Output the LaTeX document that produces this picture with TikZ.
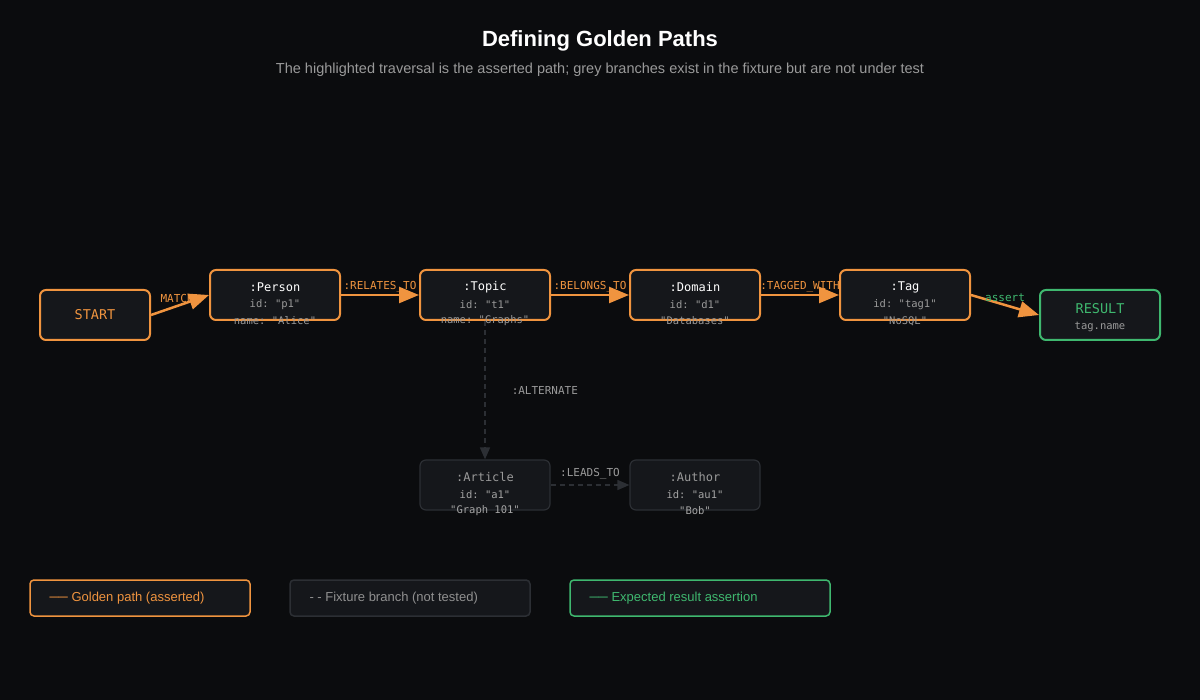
\documentclass[tikz,border=0pt]{standalone}
\usepackage{fontspec}
\setmainfont{Liberation Sans}
\setmonofont{DejaVu Sans Mono}
\usetikzlibrary{arrows.meta,positioning}
\definecolor{bgc}{HTML}{0B0C0E}
\definecolor{boxc}{HTML}{15171B}
\definecolor{gold}{HTML}{F0943F}
\definecolor{okc}{HTML}{3FB86F}
\definecolor{dimc}{HTML}{2C2F34}
\definecolor{greyt}{HTML}{9A9A9A}
\tikzset{
  box/.style={draw=gold,line width=2pt,fill=boxc,rounded corners=6pt,minimum width=130pt,minimum height=50pt},
  dimbox/.style={box,draw=dimc,line width=1.2pt},
  okbox/.style={box,draw=okc,minimum width=120pt},
  ttl/.style={font=\ttfamily\fontsize{12}{14}\selectfont,text=white},
  sub/.style={font=\ttfamily\fontsize{10.5}{12}\selectfont,text=greyt},
  gold path/.style={draw=gold,line width=2.5pt,-{Triangle[length=20pt,width=16pt]}},
  dim path/.style={draw=dimc,line width=1.5pt,dash pattern=on 5pt off 4pt,-{Triangle[length=12pt,width=10pt]}},
  elab/.style={font=\ttfamily\fontsize{11}{12}\selectfont,text=gold,inner sep=2pt},
  legend/.style={rounded corners=4pt,line width=1.5pt,fill=boxc,minimum height=36pt,font=\fontsize{13}{15}\selectfont}
}
\begin{document}
\begin{tikzpicture}[x=1pt,y=-1pt]
  \fill[bgc] (0,0) rectangle (1200,700);
  \node[font=\bfseries\fontsize{22}{26}\selectfont,text=white] (title) at (600,41) {Defining Golden Paths};
  \node[font=\fontsize{14.5}{17}\selectfont,text=greyt] (subtitle) at (600,70) {The highlighted traversal is the asserted path; grey branches exist in the fixture but are not under test};
  % golden path
  \node[box,minimum width=110pt] (start) at (95,315) {};
  \node[font=\ttfamily\fontsize{13.5}{15}\selectfont,text=gold] at (start) {START};
  \node[box] (person) at (275,295) {};
  \node[box] (topic) at (485,295) {};
  \node[box] (domain) at (695,295) {};
  \node[box] (tag) at (905,295) {};
  \node[okbox] (result) at (1100,315) {};
  \node[font=\ttfamily\fontsize{13.5}{15}\selectfont,text=okc] at (1100,309) {RESULT};
  \node[sub] at (1100,327) {tag.name};
  % fixture branch
  \node[dimbox] (article) at (485,485) {};
  \node[dimbox] (author) at (695,485) {};
  % node texts
  \foreach \n/\a/\b/\c in {person/:Person/id: "p1"/name: "Alice",
                           topic/:Topic/id: "t1"/name: "Graphs",
                           domain/:Domain/id: "d1"/"Databases",
                           tag/:Tag/id: "tag1"/"NoSQL"}{
    \node[ttl] at ([yshift=8pt]\n.center) {\a};
    \node[sub] at ([yshift=-10pt]\n.center) {\b};
    \node[sub] at ([yshift=-26pt]\n.center) {\c};
  }
  \foreach \n/\a/\b/\c in {article/:Article/id: "a1"/"Graph 101",
                           author/:Author/id: "au1"/"Bob"}{
    \node[ttl,text=greyt] at ([yshift=8pt]\n.center) {\a};
    \node[sub,text=greyt!90] at ([yshift=-10pt]\n.center) {\b};
    \node[sub,text=greyt!90] at ([yshift=-26pt]\n.center) {\c};
  }
  % connectors
  \draw[gold path] (start.east) -- node[elab,above,pos=0.45] {MATCH} (person.west);
  \draw[gold path] (person) -- node[elab,above] {:RELATES\_TO} (topic);
  \draw[gold path] (topic) -- node[elab,above] {:BELONGS\_TO} (domain);
  \draw[gold path] (domain) -- node[elab,above] {:TAGGED\_WITH} (tag);
  \draw[gold path] (tag.east) -- node[elab,above,text=okc,pos=0.5] {assert} (result.west);
  \draw[dim path] (topic) -- node[elab,text=greyt,right=24pt] {:ALTERNATE} (article);
  \draw[dim path] (article) -- node[elab,text=greyt,above=3pt] {:LEADS\_TO} (author);
  % legend
  \node[legend,draw=gold,minimum width=220pt,text=gold] (lgold) at (140,598) {};
  \node[font=\fontsize{13}{15}\selectfont,text=gold,anchor=west] at (46,598) {── Golden path (asserted)};
  \node[legend,draw=dimc,minimum width=240pt] (ldim) at (410,598) {};
  \node[font=\fontsize{13}{15}\selectfont,text=greyt!110,anchor=west] at (306,598) {- - Fixture branch (not tested)};
  \node[legend,draw=okc,minimum width=260pt] (lok) at (700,598) {};
  \node[font=\fontsize{13}{15}\selectfont,text=okc,anchor=west] at (586,598) {── Expected result assertion};
\end{tikzpicture}
\end{document}
